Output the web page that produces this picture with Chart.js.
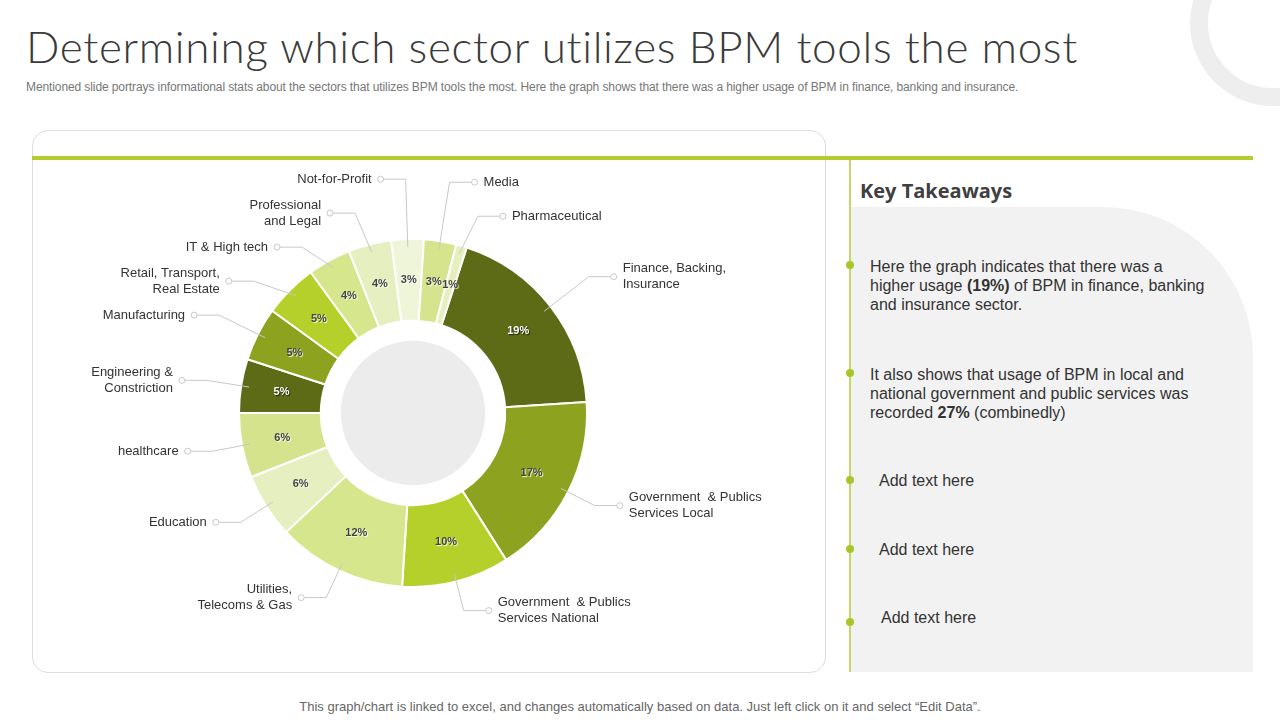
<!DOCTYPE html>
<html><head><meta charset="utf-8">
<script src="https://cdn.jsdelivr.net/npm/chart.js@4"></script>
<style>
body{margin:0;width:1280px;height:720px;position:relative;background:#fff;font-family:Arial,"Liberation Sans",sans-serif;overflow:hidden}
h1{position:absolute;left:26px;top:20px;margin:0;font-family:Lato,sans-serif;font-weight:300;font-size:44px;color:#3a3a3a;letter-spacing:0.65px}
.sub{position:absolute;left:26px;top:80px;font-size:12px;color:#777;letter-spacing:-0.1px}
.box{position:absolute;left:32px;top:130px;width:792px;height:541px;border:1px solid #ddd;border-radius:16px}
.gline{position:absolute;left:32px;top:156px;width:1221px;height:4px;background:#b3cc2e}
.vline{position:absolute;left:849px;top:160px;width:2px;height:512px;background:#c3d86a}
.panel{position:absolute;left:851px;top:207px;width:402px;height:465px;background:#f2f2f2;border-top-right-radius:150px}
.kt{position:absolute;left:860px;top:177px;font-size:20px;font-weight:bold;color:#404040;font-family:"Open Sans",sans-serif}
.item{position:absolute;left:870px;font-size:16px;color:#333;line-height:19px;width:340px}
.dot{position:absolute;left:846px;width:8px;height:8px;border-radius:50%;background:#a8c62c}
.foot{position:absolute;left:0;width:1280px;top:699px;text-align:center;font-size:13px;color:#666}
.ring{position:absolute;left:1190px;top:-60px;width:130px;height:130px;border:18px solid #eee;border-radius:50%}
canvas{position:absolute;left:33px;top:163px}
</style></head><body>
<div class="ring"></div>
<h1>Determining which sector utilizes BPM tools the most</h1>
<div class="sub">Mentioned slide portrays informational stats about the sectors that utilizes BPM  tools the most. Here the graph shows that there was a higher usage of BPM  in finance, banking and insurance.</div>
<div class="box"></div>
<div class="gline"></div>
<div class="panel"></div>
<div class="vline"></div>
<div class="kt">Key Takeaways</div>
<div class="dot" style="top:261px"></div><div class="item" style="top:257px">Here the graph indicates that there was a higher usage <b>(19%)</b> of BPM in finance, banking and insurance sector.</div>
<div class="dot" style="top:369px"></div><div class="item" style="top:365px">It also shows that usage of BPM in local and national government  and public services was recorded <b>27%</b> (combinedly)</div>
<div class="dot" style="top:476px"></div><div class="item" style="top:471px;left:879px">Add text here</div>
<div class="dot" style="top:545px"></div><div class="item" style="top:540px;left:879px">Add text here</div>
<div class="dot" style="top:618px"></div><div class="item" style="top:608px;left:881px">Add text here</div>
<div class="foot">This graph/chart is linked to excel, and changes automatically based on data. Just left click on it and select “Edit Data”.</div>
<canvas id="c" width="760" height="500"></canvas>
<script>
var sectors = [['Finance, Backing,','Insurance'],['Government  & Publics','Services Local'],['Government  & Publics','Services National'],['Utilities,','Telecoms & Gas'],['Education'],['healthcare'],['Engineering &','Constriction'],['Manufacturing'],['Retail, Transport,','Real Estate'],['IT & High tech'],['Professional','and Legal'],['Not-for-Profit'],['Media'],['Pharmaceutical']];
var shares = [19,17,10,12,6,6,5,5,5,4,4,3,3,1];
var colors = ['#5d6b17','#8da31f','#b6d02b','#d6e68c','#e6efc0','#d5e38d','#5d6b17','#8da31f','#b6d02b','#d6e68c','#e6efc0','#eff5d8','#d6e48e','#e6efc0'];

var labelsPlugin = {
	id: 'labels',
	afterDatasetsDraw: function (chart) {
		var ctx = chart.ctx, arcs = chart.getDatasetMeta(0).data;
		var items = [];
		arcs.forEach(function (a, i) {
			var mid = (a.startAngle + a.endAngle) / 2, r = a.outerRadius;
			var ir = (a.innerRadius + r) / 2;
			ctx.save();
			ctx.font = 'bold 11px Arial';
			ctx.textAlign = 'center'; ctx.textBaseline = 'middle';
			var dark = (i === 0 || i === 6);
			ctx.shadowColor = dark ? 'rgba(0,0,0,0.7)' : 'rgba(255,255,255,0.9)';
			ctx.shadowOffsetX = 1; ctx.shadowOffsetY = 1; ctx.shadowBlur = 1;
			ctx.fillStyle = dark ? '#fff' : '#444';
			ctx.fillText(shares[i] + '%', a.x + Math.cos(mid) * ir, a.y + Math.sin(mid) * ir);
			ctx.restore();
			var right = Math.cos(mid) >= 0;
			var ext = 30 + 30 * Math.max(0, -Math.sin(mid));
			items.push({i: i, mid: mid, a: a, right: right, ext: ext, y: a.y + Math.sin(mid) * (r + ext)});
		});
		[true, false].forEach(function (side) {
			var s = items.filter(function (o) { return o.right === side; }).sort(function (p, q) { return p.y - q.y; });
			for (var k = 1; k < s.length; k++) if (s[k].y - s[k-1].y < 34) s[k].y = s[k-1].y + 34;
		});
		items.forEach(function (o) {
			var a = o.a, r = a.outerRadius;
			var x0 = a.x + Math.cos(o.mid) * (r - 8), y0 = a.y + Math.sin(o.mid) * (r - 8);
			var ex = a.x + Math.cos(o.mid) * (r + o.ext);
			var ey = o.y;
			var dir = o.right ? 1 : -1;
			var cx2 = ex + dir * 22;
			ctx.save();
			ctx.strokeStyle = '#c8c8c8'; ctx.lineWidth = 1;
			ctx.beginPath(); ctx.moveTo(x0, y0); ctx.lineTo(ex, ey); ctx.lineTo(cx2, ey); ctx.stroke();
			ctx.fillStyle = '#fff';
			ctx.beginPath(); ctx.arc(cx2 + dir * 3, ey, 3, 0, Math.PI * 2); ctx.fill(); ctx.stroke();
			ctx.fillStyle = '#333'; ctx.font = '13px Arial';
			ctx.textAlign = o.right ? 'left' : 'right'; ctx.textBaseline = 'middle';
			var lines = sectors[o.i], n = lines.length;
			lines.forEach(function (t, j) {
				ctx.fillText(t, cx2 + dir * 12, ey + (j - (n - 1) / 2) * 16);
			});
			ctx.restore();
		});
	},
	beforeDatasetsDraw: function (chart) {
		var a = chart.getDatasetMeta(0).data[0], ctx = chart.ctx;
		ctx.save(); ctx.fillStyle = '#ececec';
		ctx.beginPath(); ctx.arc(a.x, a.y, a.innerRadius - 20, 0, Math.PI * 2); ctx.fill();
		ctx.restore();
	}
};

new Chart(document.getElementById('c'), {
	type: 'doughnut',
	data: { labels: sectors.map(function (s) { return s.join(' '); }), datasets: [{ data: shares, backgroundColor: colors, borderColor: '#fff', borderWidth: 2 }] },
	options: {
		responsive: false, animation: false, rotation: 18, cutout: '53%',
		layout: { padding: { top: 75, bottom: 75 } },
		plugins: { legend: { display: false }, tooltip: { enabled: false } }
	},
	plugins: [labelsPlugin]
});
</script>
</body></html>
